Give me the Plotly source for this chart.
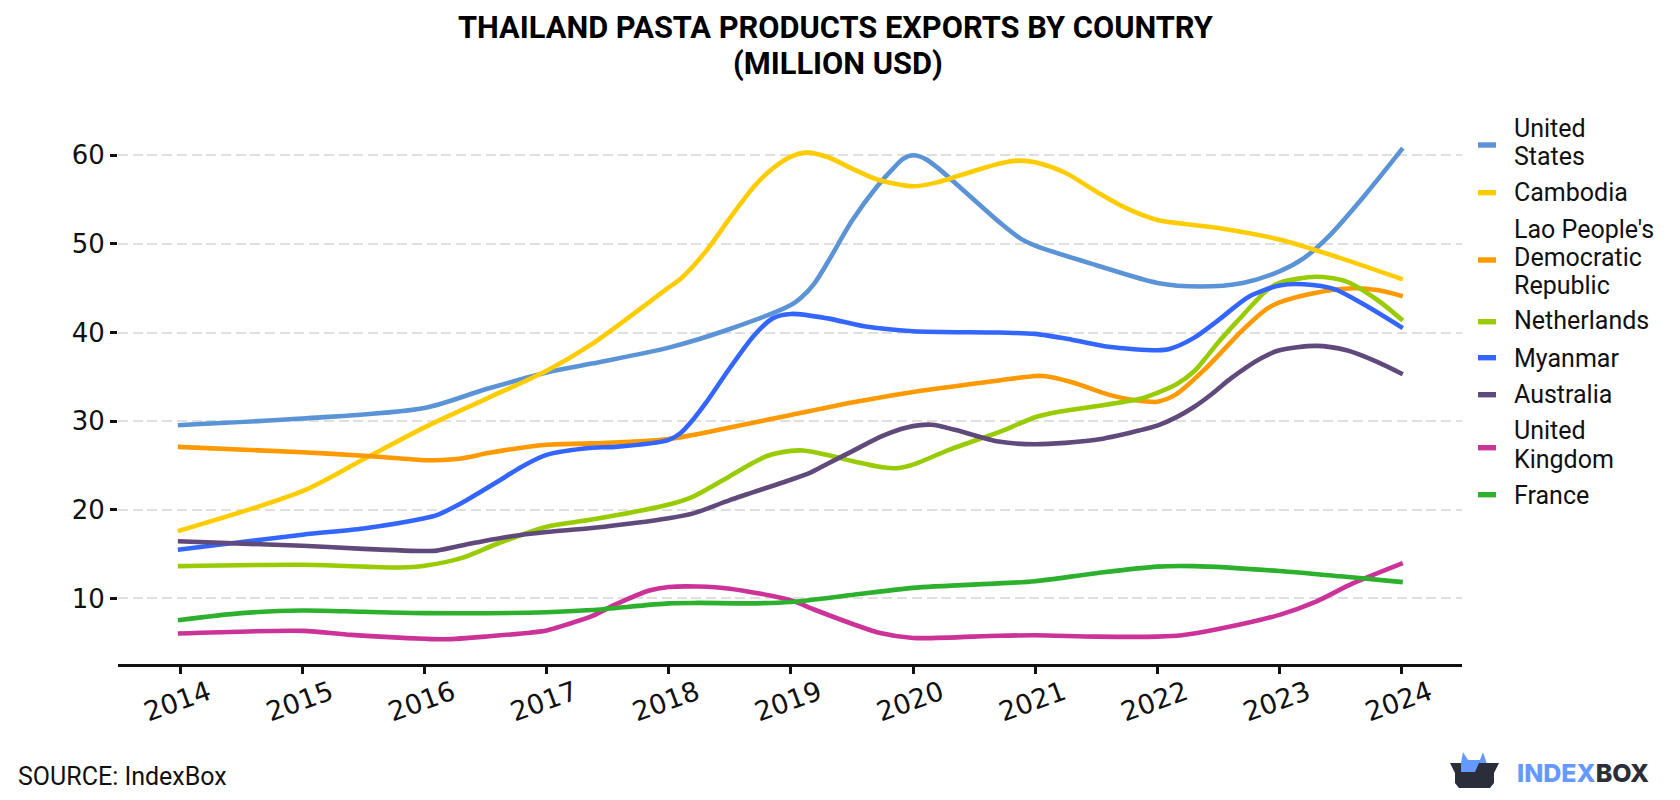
import plotly.graph_objects as go

W, H = 1680, 800
PLOT_L, PLOT_R, PLOT_T, PLOT_B = 118, 1462, 130, 664
TICK_YEARS = list(range(2014, 2025))
TICK_VALUES = [10, 20, 30, 40, 50, 60]

us_x = [2013.98, 2015, 2016, 2016.5, 2017, 2017.37, 2018, 2018.5, 2019, 2019.08, 2019.19, 2019.3, 2019.5, 2019.7, 2019.85, 2019.92, 2020, 2020.1, 2020.2, 2020.4, 2020.72, 2020.88, 2021, 2021.5, 2022, 2022.35, 2022.7, 2023, 2023.2, 2023.4, 2023.7, 2024.01]
us_y = [29.55, 30.3, 31.5, 33.6, 35.5, 36.5, 38.3, 40.4, 43.1, 43.9, 45.5, 47.9, 52.6, 56.4, 58.7, 59.6, 60, 59.6, 58.6, 56.2, 52.3, 50.6, 49.8, 47.6, 45.6, 45.2, 45.6, 46.9, 48.4, 50.8, 55.5, 60.8]

cambodia_x = [2013.98, 2015, 2015.5, 2016, 2016.5, 2017, 2017.37, 2018, 2018.1, 2018.3, 2018.5, 2018.7, 2018.85, 2019, 2019.13, 2019.3, 2019.5, 2019.7, 2020, 2020.2, 2020.4, 2020.72, 2020.88, 2021, 2021.25, 2021.5, 2021.75, 2022, 2022.5, 2023, 2023.5, 2024.01]
cambodia_y = [17.6, 22.1, 25.7, 29.3, 32.5, 35.7, 38.7, 45.1, 46.1, 49.1, 52.9, 56.5, 58.5, 59.85, 60.3, 59.8, 58.5, 57.3, 56.5, 56.95, 57.8, 59.1, 59.4, 59.2, 58, 55.9, 54, 52.7, 51.8, 50.5, 48.4, 46]

lao_x = [2013.98, 2015, 2015.5, 2016, 2016.08, 2016.3, 2016.52, 2016.74, 2017, 2017.37, 2018, 2018.5, 2019, 2019.5, 2020, 2020.7, 2021, 2021.07, 2021.3, 2021.6, 2021.85, 2022, 2022.15, 2022.4, 2022.7, 2022.9, 2023, 2023.3, 2023.6, 2023.8, 2024.01]
lao_y = [27.1, 26.5, 26.1, 25.6, 25.6, 25.8, 26.4, 26.9, 27.35, 27.5, 28, 29.3, 30.7, 32.1, 33.3, 34.6, 35.1, 35.1, 34.4, 33, 32.3, 32.2, 33, 36, 40.3, 42.7, 43.4, 44.5, 45, 44.8, 44.1]

netherlands_x = [2013.98, 2015, 2015.5, 2015.8, 2016, 2016.3, 2016.6, 2017, 2017.37, 2018, 2018.2, 2018.5, 2018.65, 2018.81, 2019, 2019.1, 2019.3, 2019.5, 2019.75, 2019.87, 2020, 2020.3, 2020.72, 2020.85, 2021, 2021.15, 2021.3, 2021.5, 2021.85, 2022, 2022.15, 2022.3, 2022.4, 2022.5, 2022.65, 2022.9, 2023, 2023.3, 2023.55, 2023.8, 2024.01]
netherlands_y = [13.65, 13.8, 13.6, 13.5, 13.7, 14.55, 16.2, 18.1, 18.9, 20.6, 21.5, 23.8, 25, 26.1, 26.65, 26.7, 26.2, 25.5, 24.8, 24.7, 25.1, 26.8, 28.85, 29.6, 30.45, 30.95, 31.3, 31.7, 32.5, 33.2, 34.1, 35.6, 37.2, 38.9, 41.2, 44.8, 45.6, 46.3, 45.75, 43.7, 41.35]

myanmar_x = [2013.98, 2015, 2015.5, 2016, 2016.1, 2016.3, 2016.6, 2016.8, 2017, 2017.37, 2017.56, 2018, 2018.1, 2018.2, 2018.3, 2018.5, 2018.7, 2018.85, 2019, 2019.3, 2019.6, 2020, 2020.7, 2021, 2021.3, 2021.6, 2022, 2022.1, 2022.3, 2022.5, 2022.75, 2023, 2023.2, 2023.45, 2023.7, 2024.01]
myanmar_y = [15.5, 17.2, 17.9, 19.05, 19.4, 20.75, 23.2, 24.9, 26.2, 27, 27.1, 27.9, 28.7, 30.2, 32, 36, 39.7, 41.6, 42.1, 41.6, 40.7, 40.15, 40, 39.85, 39.2, 38.4, 38, 38.15, 39.4, 41.4, 44.05, 45.3, 45.45, 44.9, 43.1, 40.5]

australia_x = [2013.98, 2015, 2015.5, 2016, 2016.1, 2016.4, 2016.7, 2017, 2017.37, 2018, 2018.2, 2018.5, 2019, 2019.16, 2019.3, 2019.5, 2019.75, 2019.95, 2020.15, 2020.35, 2020.7, 2021, 2021.5, 2021.85, 2022, 2022.15, 2022.3, 2022.45, 2022.6, 2022.85, 2023, 2023.3, 2023.55, 2023.8, 2024.01]
australia_y = [16.45, 15.95, 15.6, 15.35, 15.4, 16.25, 17, 17.5, 17.95, 19.05, 19.6, 21.1, 23.4, 24.2, 25.2, 26.6, 28.35, 29.3, 29.6, 29, 27.7, 27.4, 27.9, 28.95, 29.5, 30.4, 31.6, 33.1, 34.8, 37.1, 38, 38.5, 38, 36.7, 35.3]

uk_x = [2013.98, 2015, 2015.4, 2016, 2016.16, 2016.5, 2017, 2017.15, 2017.37, 2017.56, 2017.84, 2018, 2018.24, 2018.5, 2019, 2019.2, 2019.5, 2019.73, 2020, 2020.7, 2021, 2021.5, 2022, 2022.2, 2022.5, 2023, 2023.3, 2023.6, 2024.01]
uk_y = [6.05, 6.35, 5.9, 5.45, 5.4, 5.7, 6.4, 7, 8, 9.3, 10.9, 11.3, 11.35, 11.1, 9.8, 8.7, 7.15, 6.1, 5.55, 5.8, 5.85, 5.7, 5.7, 5.85, 6.55, 8.15, 9.65, 11.7, 14]

france_x = [2013.98, 2014.5, 2015, 2015.5, 2016, 2017, 2017.37, 2018, 2018.24, 2018.65, 2019, 2019.5, 2020, 2020.7, 2021, 2021.5, 2022, 2022.3, 2023, 2023.5, 2024.01]
france_y = [7.55, 8.35, 8.65, 8.5, 8.35, 8.45, 8.7, 9.45, 9.5, 9.45, 9.6, 10.4, 11.2, 11.7, 11.95, 12.85, 13.6, 13.65, 13.1, 12.5, 11.85]

SERIES = [
    ("United States", us_x, us_y, "#5b93d7"),
    ("Cambodia", cambodia_x, cambodia_y, "#ffcc00"),
    ("Lao People's Democratic Republic", lao_x, lao_y, "#ff9900"),
    ("Netherlands", netherlands_x, netherlands_y, "#99cc00"),
    ("Myanmar", myanmar_x, myanmar_y, "#3366ff"),
    ("Australia", australia_x, australia_y, "#604a7b"),
    ("United Kingdom", uk_x, uk_y, "#cc3399"),
    ("France", france_x, france_y, "#2db02d"),
]

TITLE_LINES = ["THAILAND PASTA PRODUCTS EXPORTS BY COUNTRY", "(MILLION USD)"]

# Legend rows: wrapped text lines with their page heights, and the key's height
LEGEND_ROWS = [
    (145, [("United", 128.3), ("States", 156)]),
    (192.7, [("Cambodia", 192.7)]),
    (260, [("Lao People's", 229.3), ("Democratic", 257.3), ("Republic", 285)]),
    (321.7, [("Netherlands", 320.7)]),
    (357.7, [("Myanmar", 358.3)]),
    (394.7, [("Australia", 394.3)]),
    (447.7, [("United", 431), ("Kingdom", 459.3)]),
    (494.7, [("France", 495)]),
]

LOGO_DARK = "#2a2d3a"
LOGO_BLUE = "#6699ff"
logo_lid = [(1461, 763), (1463, 752), (1468, 760), (1480, 760), (1483, 752), (1487, 764), (1487, 775), (1461, 775)]
logo_box = [(1450, 763), (1461, 763), (1461, 772), (1475, 772), (1479, 763), (1499, 763), (1494, 773), (1494, 783), (1490, 788), (1459, 788), (1455, 783), (1455, 773)]


# Page pixels expressed in the plot area's paper coordinates
def paper_x(x):
    return (x - PLOT_L) / (PLOT_R - PLOT_L)


def paper_y(y):
    return (PLOT_B - y) / (PLOT_B - PLOT_T)


def logo_shape(points, color):
    path = "M" + " L".join(f"{paper_x(x):.5f},{paper_y(y):.5f}" for x, y in points) + " Z"
    return dict(type="path", path=path, xref="paper", yref="paper",
                fillcolor=color, line=dict(width=0), layer="above")


def page_text(text, x, y, size, anchor="left", color="#111111", family="Roboto", weight=400):
    return dict(text=text, x=paper_x(x), y=paper_y(y), xref="paper", yref="paper",
                xanchor=anchor, yanchor="middle", showarrow=False,
                font=dict(family=family, size=size, color=color, weight=weight))


fig = go.Figure()
for name, xs, ys, color in SERIES:
    fig.add_trace(go.Scatter(
        x=xs, y=ys, name=name, mode="lines", showlegend=False,
        line=dict(color=color, width=4.6, shape="spline", smoothing=0.8),
        hoverinfo="x+y+name",
    ))

annotations = [
    page_text(TITLE_LINES[0], 836, 28, 30.8, "center", "#000000", weight=700),
    page_text(TITLE_LINES[1], 838, 63, 30.8, "center", "#000000", weight=700),
    page_text("SOURCE: IndexBox", 16, 776, 25),
    page_text(f'<span style="color:{LOGO_BLUE}">INDEX</span><span style="color:{LOGO_DARK}">BOX</span>',
              1515, 773, 25, family="Inter", weight=800),
]
shapes = [logo_shape(logo_lid, LOGO_BLUE), logo_shape(logo_box, LOGO_DARK)]

# Hand-placed legend: short colour key plus one text line per wrapped row
for (key_y, lines), (_, _, _, color) in zip(LEGEND_ROWS, SERIES):
    shapes.append(dict(type="rect", xref="paper", yref="paper",
                       x0=paper_x(1478), x1=paper_x(1496),
                       y0=paper_y(key_y + 2.7), y1=paper_y(key_y - 2.7),
                       fillcolor=color, line=dict(width=0), layer="above"))
    annotations += [page_text(text, 1511.5, y, 25) for text, y in lines]

fig.update_layout(
    width=W, height=H, autosize=False,
    paper_bgcolor="white", plot_bgcolor="white",
    margin=dict(l=PLOT_L, r=W - PLOT_R, t=PLOT_T, b=H - PLOT_B),
    font=dict(family="Roboto", color="#111111"),
    showlegend=False,
    xaxis=dict(
        range=[2013.49, 2024.495], tickvals=TICK_YEARS, ticktext=[str(y) for y in TICK_YEARS],
        tickangle=-20, tickfont=dict(family="DejaVu Sans", size=27, color="#111111"),
        ticklabelshift=28, ticklabelstandoff=-7,
        ticks="outside", ticklen=7, tickwidth=2.5, tickcolor="#111111",
        showline=True, linecolor="#111111", linewidth=2.5, showgrid=False, zeroline=False,
    ),
    yaxis=dict(
        range=[2.61, 62.85], tickvals=TICK_VALUES,
        tickfont=dict(family="DejaVu Sans", size=26, color="#111111"),
        ticks="outside", ticklen=7, tickwidth=2.5, tickcolor="#111111",
        showline=False, showgrid=True, gridcolor="#dfdfdf", gridwidth=2,
        griddash="10px,4.7px", zeroline=False,
    ),
    annotations=annotations,
    shapes=shapes,
)

fig.write_html("out.html")
